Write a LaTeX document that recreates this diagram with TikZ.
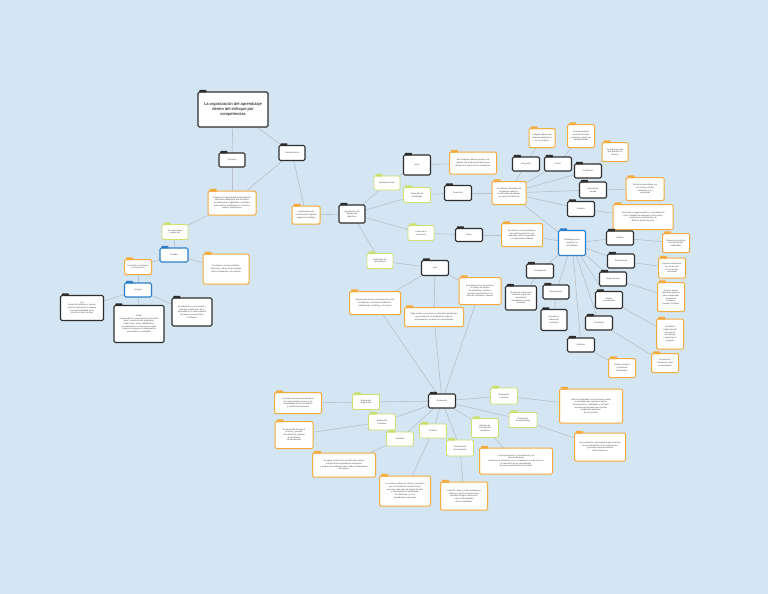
\documentclass[tikz,border=0pt]{standalone}
\usepackage{fontspec}
\setmainfont{Liberation Sans}
\usetikzlibrary{backgrounds}
\definecolor{bgc}{RGB}{212,229,243}
\definecolor{orc}{RGB}{245,172,62}
\definecolor{grc}{RGB}{204,224,112}
\definecolor{blc}{RGB}{45,125,200}
\definecolor{dkc}{RGB}{45,45,45}
\definecolor{lnc}{RGB}{186,193,200}
\definecolor{txc}{RGB}{70,70,70}
\tikzset{
 base/.style={fill=white, rounded corners=1.3pt, align=center, inner sep=1pt, font=\fontsize{2.1}{2.7}\selectfont, text=txc},
 blk/.style={base, draw=dkc, line width=1.1pt},
 org/.style={base, draw=orc, line width=1pt},
 grn/.style={base, draw=grc, line width=0.9pt},
 blu/.style={base, draw=blc, line width=1.1pt},
 sz/.style 2 args={minimum width=#1pt, minimum height=#2pt},
 link/.style={draw=lnc, line width=0.6pt},
}
\newcommand\drawtabs[2]{\foreach \n in {#2}{\fill[#1, rounded corners=0.6pt] ([xshift=2pt,yshift=-1pt]\n.north west) rectangle ([xshift=9pt,yshift=1.6pt]\n.north west);}}
\begin{document}
\begin{tikzpicture}[x=1pt,y=-1pt]
\useasboundingbox (0,0) rectangle (768,594);
% ---- left branch
\node[blk, sz={70}{35}, font=\fontsize{4.1}{4.9}\selectfont, text=black] (title) at (233,109.5) {La organización del aprendizaje\\dentro del enfoque por\\competencias};
\node[blk, sz={26}{14}] (n2) at (232,160) {Concepto};
\node[blk, sz={26}{15}] (n3) at (292,153) {Características};
\node[org, sz={48}{24}] (n4) at (232,203) {Organizar el aprendizaje implica diseñar\\situaciones didácticas que movilicen\\conocimientos, habilidades y actitudes\\para resolver problemas en contextos\\reales y significativos};
\node[grn, sz={26}{15}] (n5) at (175,232) {Sus principales\\rasgos son};
\node[blu, sz={28}{14}] (n6) at (174,255) {Flexible};
\node[org, sz={46}{30}] (n7) at (226,269) {Se adapta a las necesidades,\\intereses y ritmos de aprendizaje\\de los estudiantes y al contexto};
\node[org, sz={27}{15}] (n8) at (138,267) {Centrada en el alumno\\y sus procesos};
\node[blu, sz={27}{14}] (n9) at (138,290) {Integral};
\node[blk, sz={43}{25}] (n10) at (82,308) {Ser\\Desarrolla actitudes y valores\\para la convivencia, el respeto\\y la responsabilidad en su\\entorno social y escolar};
\node[blk, sz={50}{37}] (n11) at (139,324) {Saber\\Comprende los conocimientos necesarios\\para la resolución de problemas\\Saber hacer: aplica habilidades y\\procedimientos en situaciones reales\\Integra los saberes en desempeños\\observables y evaluables};
\node[blk, sz={40}{28}] (n12) at (192,312) {Se relaciona con el contexto y\\favorece la aplicación de lo\\aprendido en la vida cotidiana\\Promueve la autonomía y\\la reflexión};
% ---- center branch
\node[org, sz={28}{18}] (n13) at (306,215) {La planeación por\\competencias requiere\\organizar el trabajo};
\node[blk, sz={26}{18}] (n14) at (352,214) {Organización de\\secuencias\\didácticas};
\node[grn, sz={26}{14}] (n15) at (387,183) {Momentos clave};
\node[blk, sz={27}{20}] (n16) at (417,165) {Inicio};
\node[org, sz={47}{22}] (n17) at (473,163) {Se recuperan saberes previos y se\\plantea una situación problema que\\despierte el interés de los estudiantes};
\node[grn, sz={27}{15}] (n18) at (417,195) {Desarrollo de\\actividades};
\node[blk, sz={27}{15}] (n19) at (458,193) {Desarrollo};
\node[org, sz={34}{23}] (n20) at (509,193) {Se realizan actividades de\\búsqueda, análisis y\\construcción de saberes\\con apoyo del docente};
\node[grn, sz={26}{15}] (n21) at (421,233) {Cierre de la\\secuencia};
\node[blk, sz={27}{13}] (n22) at (469,235) {Cierre};
\node[org, sz={41}{23}] (n23) at (522,235) {Se sintetizan los aprendizajes,\\se evalúan productos y se\\reflexiona sobre lo aprendido\\y su aplicación cotidiana};
\node[grn, sz={26}{15}] (n24) at (380,261) {Ambientes de\\aprendizaje};
\node[blk, sz={27}{15}] (n25) at (435,268) {Aula};
\node[org, sz={51}{23}] (n26) at (375,303) {Espacio que favorece la interacción entre\\estudiantes y docentes mediante la\\colaboración, el diálogo y el respeto};
\node[org, sz={59}{19}] (n27) at (434,317) {Debe contar con recursos y materiales pertinentes\\que permitan a los estudiantes explorar,\\experimentar y construir sus aprendizajes};
\node[org, sz={42}{27}] (n28) at (480,291) {Se promueve la convivencia y\\el trabajo en equipo\\Se establecen normas y\\acuerdos que favorecen un\\clima de confianza y respeto};
\node[blk, sz={31}{24}] (n29) at (521,298) {El docente actúa como\\mediador y guía del\\aprendizaje\\Acompaña y orienta\\el trabajo};
% ---- right cluster
\node[blu, sz={27}{25}] (hub) at (572,243) {Estrategias para\\organizar el\\aprendizaje};
\node[org, sz={26}{19}] (r1) at (542,138) {Integran saberes de\\diversas asignaturas\\en un producto};
\node[org, sz={27}{23}] (r2) at (581,136) {Permiten analizar\\situaciones reales\\y proponer soluciones\\fundamentadas};
\node[org, sz={26}{19}] (r3) at (615,152) {Se plantean retos\\que desafían al\\alumno};
\node[blk, sz={27}{14}] (r4) at (526,164) {Proyectos};
\node[blk, sz={27}{14}] (r5) at (558,164) {Casos};
\node[blk, sz={27}{14}] (r6) at (588,171) {Problemas};
\node[blk, sz={27}{16}] (r7) at (593,190) {Aprendizaje\\situado};
\node[org, sz={38}{23}] (r8) at (645,189) {Vincula el aprendizaje con\\el contexto real del\\estudiante y su\\comunidad};
\node[blk, sz={27}{15}] (r9) at (581,209) {Debates};
\node[org, sz={60}{25}] (r10) at (643,217) {Favorecen la argumentación y el pensamiento\\crítico mediante la expresión oral de ideas\\a partir de la confrontación de\\distintos puntos de vista};
\node[blk, sz={27}{14}] (s1) at (620,238) {Talleres};
\node[org, sz={27}{19}] (s2) at (676,243) {Espacios de práctica\\para desarrollar\\habilidades};
\node[blk, sz={27}{14}] (s3) at (621,261) {Simulaciones};
\node[org, sz={27}{20}] (s4) at (672,268) {Recrean situaciones\\de la vida real\\en un entorno\\controlado};
\node[blk, sz={27}{14}] (s5) at (540,271) {Investigación};
\node[blk, sz={27}{14}] (s6) at (613,279) {Juego de roles};
\node[org, sz={27}{29}] (s7) at (671,297) {Permite asumir\\diferentes papeles\\para comprender\\situaciones\\sociales y\\resolver conflictos};
\node[blk, sz={26}{14}] (s8) at (556,292) {Exposiciones};
\node[blk, sz={27}{17}] (s9) at (609,300) {Mapas\\conceptuales};
\node[blk, sz={26}{21}] (s10) at (554,320) {Organizan y\\relacionan\\conceptos};
\node[blk, sz={27}{14}] (s11) at (599,323) {Portafolios};
\node[org, sz={27}{30}] (s12) at (670,334) {Recopilan\\evidencias del\\proceso de\\aprendizaje\\y muestran el\\progreso};
\node[blk, sz={27}{14}] (s13) at (581,345) {Rúbricas};
\node[org, sz={27}{19}] (s14) at (622,368) {Definen criterios\\y niveles de\\desempeño};
\node[org, sz={27}{19}] (s15) at (665,363) {Los alumnos\\reflexionan sobre\\su desempeño};
% ---- bottom cluster
\node[blk, sz={27}{14}] (b0) at (442,401) {Evaluación};
\node[grn, sz={27}{15}] (b1) at (366,402) {Evaluación\\diagnóstica};
\node[org, sz={47}{21}] (b2) at (298,403) {Se realiza al inicio para identificar\\los conocimientos previos y las\\necesidades de los estudiantes\\y orientar la planeación};
\node[grn, sz={27}{16}] (b3) at (382,422) {Evaluación\\formativa};
\node[org, sz={38}{27}] (b4) at (294,435) {Se desarrolla durante el\\proceso y permite\\retroalimentar y ajustar\\la enseñanza\\oportunamente};
\node[grn, sz={27}{14}] (b5) at (400,439) {Sumativa};
\node[grn, sz={27}{14}] (b6) at (433,431) {Criterios};
\node[grn, sz={27}{16}] (b7) at (460,448) {Instrumentos\\de evaluación};
\node[grn, sz={27}{19}] (b8) at (485,428) {Agentes de\\la evaluación\\educativa};
\node[grn, sz={27}{16}] (b9) at (504,396) {Evaluación\\auténtica};
\node[grn, sz={28}{15}] (b10) at (523,420) {Evidencias\\de aprendizaje};
\node[org, sz={63}{24}] (b11) at (344,465) {Se aplica al final de un periodo para valorar\\el logro de los aprendizajes esperados\\y asignar una calificación que refleje el desempeño\\del alumno};
\node[org, sz={51}{30}] (b12) at (405,491) {Los criterios deben ser claros y conocidos\\por los estudiantes desde el inicio\\para que sepan qué se espera de ellos\\y autorregulen su aprendizaje\\Se relacionan con los\\aprendizajes esperados};
\node[org, sz={47}{28}] (b13) at (464,496) {Listas de cotejo, escalas estimativas,\\rúbricas y guías de observación\\permiten recoger información\\sobre el desempeño\\de los estudiantes};
\node[org, sz={73}{26}] (b14) at (516,461) {La autoevaluación, la coevaluación y la\\heteroevaluación\\involucran al estudiante, a sus compañeros y al docente en\\la valoración de los aprendizajes\\de manera participativa y formativa};
\node[org, sz={63}{34}] (b15) at (591,406) {Valora el desempeño en situaciones reales\\o simuladas que requieren aplicar\\conocimientos, habilidades y actitudes\\de manera integrada para resolver\\problemas relevantes\\de su contexto};
\node[org, sz={51}{28}] (b16) at (600,447) {Son productos o desempeños que muestran\\el nivel de dominio de la competencia\\y permiten tomar decisiones\\sobre el proceso};
% ---- tabs
\drawtabs{dkc}{title,n2,n3,n10,n11,n12,n14,n16,n19,n22,n25,n29,r4,r5,r6,r7,r9,s1,s3,s5,s6,s8,s9,s10,s11,s13,b0}
\drawtabs{orc}{n4,n7,n8,n13,n17,n20,n23,n26,n27,n28,r1,r2,r3,r8,r10,s2,s4,s7,s12,s14,s15,b2,b4,b11,b12,b13,b14,b15,b16}
\drawtabs{grc}{n5,n15,n18,n21,n24,b1,b3,b5,b6,b7,b8,b9,b10}
\drawtabs{blc}{n6,n9,hub}
% ---- connectors
\begin{pgfonlayer}{background}
\fill[bgc] (0,0) rectangle (768,594);
\foreach \a/\b in {title/n2,title/n3,n2/n4,n3/n4,n3/n13,n4/n5,n5/n6,n6/n7,n6/n8,n8/n9,n9/n10,n9/n11,n9/n12,
 n13/n14,n14/n15,n14/n18,n14/n21,n14/n24,n15/n16,n16/n17,n18/n19,n19/n20,
 n20/r4,n20/r5,n20/r6,n20/r7,n20/r9,n20/hub,r4/r1,r5/r2,r6/r3,r7/r8,r9/r10,
 n21/n22,n22/n23,n23/hub,hub/s1,hub/s3,hub/s5,hub/s6,hub/s8,hub/s9,hub/s11,hub/s13,
 s5/n29,s8/s10,s1/s2,s3/s4,s6/s7,s9/s12,s11/s15,s13/s14,
 n24/n25,n25/n26,n25/n28,n25/n27,n27/b0,n26/b0,n28/b0,
 b0/b1,b1/b2,b0/b3,b3/b4,b0/b5,b5/b11,b0/b6,b6/b12,b0/b7,b7/b13,b0/b8,b8/b14,b0/b9,b9/b15,b0/b10,b10/b16}
 {\draw[link] (\a) -- (\b);}
\end{pgfonlayer}
\end{tikzpicture}
\end{document}
